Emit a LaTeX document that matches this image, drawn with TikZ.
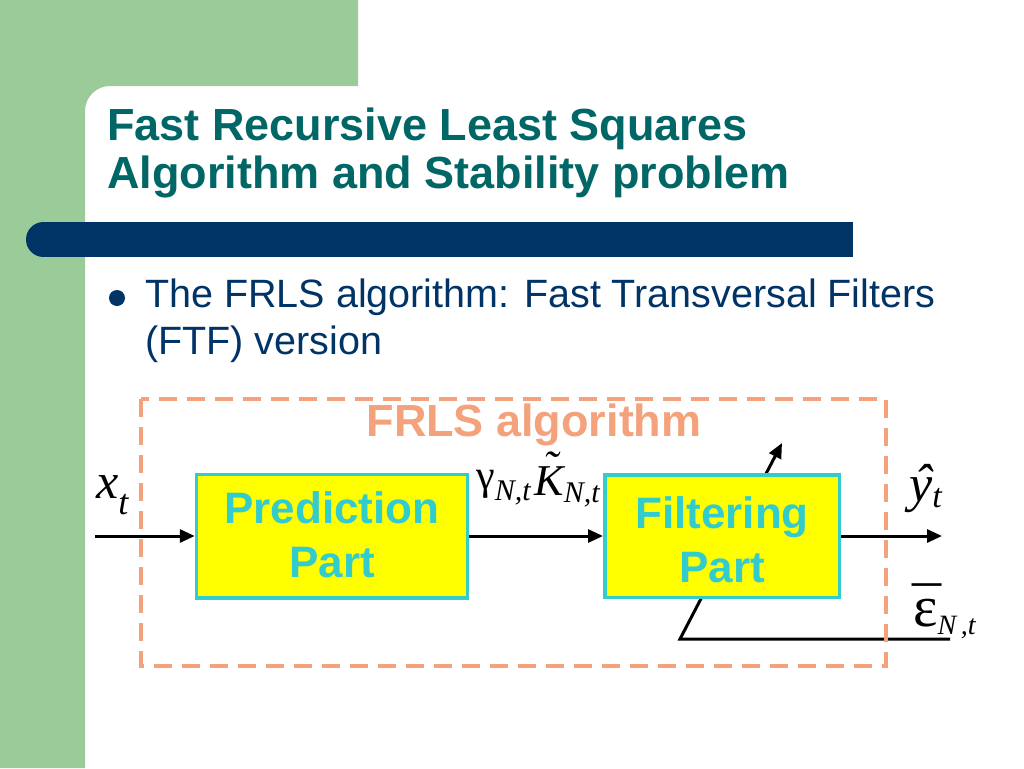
\documentclass[tikz,border=0pt]{standalone}
\usepackage{fontspec}
\setmainfont{Liberation Sans}
\newfontfamily\tms{Liberation Serif}
\usetikzlibrary{arrows.meta}
\newcommand{\fsz}[1]{\fontsize{#1}{#1}\selectfont}
% accent over a base: #1 raise, #2 horizontal shift, #3 accent, #4 base
\newcommand{\myaccent}[4]{\leavevmode\setbox0\hbox{#4}%
  \rlap{\hbox to \wd0{\hss\hspace{#2}\raisebox{#1}{#3}\hss}}\box0}
\newcommand{\lowertext}[2]{\raisebox{-#1}[\height][\depth]{\begin{tabular}{@{}c@{}}#2\end{tabular}}}
\definecolor{bggreen}{HTML}{9ACB98}
\definecolor{titleteal}{HTML}{006666}
\definecolor{navy}{HTML}{003366}
\definecolor{salmon}{HTML}{F4A27C}
\definecolor{boxcyan}{HTML}{33CCCC}
\definecolor{boxyellow}{HTML}{FFFF00}
\begin{document}
\begin{tikzpicture}[x=1pt,y=-1pt,
  titletext/.style={anchor=base west, inner sep=0, text=titleteal, font=\bfseries\fsz{45}},
  bodytext/.style={anchor=base west, inner sep=0, text=navy, font=\fsz{39.5}},
  blockbox/.style={draw=boxcyan, fill=boxyellow, line width=3.5pt, inner sep=0,
    align=center, text=boxcyan, font=\bfseries\fontsize{44}{54}\selectfont},
  sig/.style={line width=3pt, draw=black},
  sigarrow/.style={sig, -{Triangle[length=15pt,width=13pt]}},
  frame/.style={draw=salmon, line width=4pt, dash pattern=on 18pt off 10pt},
  mathlbl/.style={anchor=base west, inner sep=0, text=black}
]
% page
\fill[white] (0,0) rectangle (1024,768);
\useasboundingbox (0,0) rectangle (1024,768);
% green background with rounded inner corner
\fill[bggreen] (0,0) -- (358,0) -- (358,86) -- (110,86)
  .. controls (96.2,86) and (85,97.2) .. (85,111) -- (85,768) -- (0,768) -- cycle;
% blue bar
\fill[navy] (43.5,222) rectangle (853,257);
\fill[navy] (43.5,239.5) circle (17.5);
% title
\node[titletext] (title1) at (107,140) {Fast Recursive Least Squares};
\node[titletext] (title2) at (107,188) {Algorithm and Stability problem};
% bullet
\node[circle, fill=navy, minimum size=16pt, inner sep=0] (bullet) at (117,298) {};
\node[bodytext] (body1) at (145,307) {The FRLS algorithm: Fast Transversal Filters};
\node[bodytext] (body2) at (145,354) {(FTF) version};
% coordinates
\coordinate (xin) at (95,536);
\coordinate (yout) at (942,536);
\coordinate (ebot) at (680,639);
\coordinate (etop) at (782,443);
\coordinate (eend) at (950,639);
% connectors
\draw[sigarrow] (eend) -- (ebot) -- (etop);
% blocks
\node[blockbox, minimum width=271pt, minimum height=123.5pt] (pred) at (332,536) {\lowertext{4pt}{Prediction\\Part}};
\node[blockbox, minimum width=234.5pt, minimum height=122.5pt] (filt) at (722,536) {\lowertext{9pt}{Filtering\\Part}};
\draw[sigarrow] (xin) -- (pred.west);
\draw[sigarrow] (pred.east) -- (filt.west);
\draw[sigarrow] (filt.east) -- (yout);
% frame
\draw[frame] (141,399) rectangle (886,666);
\node[anchor=base, inner sep=0, text=salmon, font=\bfseries\fsz{45}] (frls) at (534,436) {FRLS algorithm};
% math labels
\node[mathlbl] (xlbl) at (96,498) {{\fsz{50}\tms\itshape x}\raisebox{-16pt}{\fsz{36}\tms\itshape t}};
\node[mathlbl] (klbl) at (476,495) {\raisebox{6pt}{\fsz{42}\tms γ}\raisebox{-5pt}{\fsz{30}\tms\itshape N,t}\hspace{4pt}{\fsz{44}\tms\itshape\myaccent{14pt}{3pt}{˜}{K}}\raisebox{-7pt}{\fsz{30}\tms\itshape N,t}};
\node[mathlbl] (ylbl) at (909,501) {{\fsz{52}\tms\itshape\myaccent{1pt}{4pt}{ˆ}{y}}\raisebox{-6pt}{\fsz{34}\tms\itshape t}};
\node[mathlbl] (elbl) at (913,626) {{\fsz{58}\tms\myaccent{-1pt}{3pt}{¯}{ε}}\raisebox{-8pt}{\fsz{28}\tms\itshape N\,,t}};
\end{tikzpicture}
\end{document}
